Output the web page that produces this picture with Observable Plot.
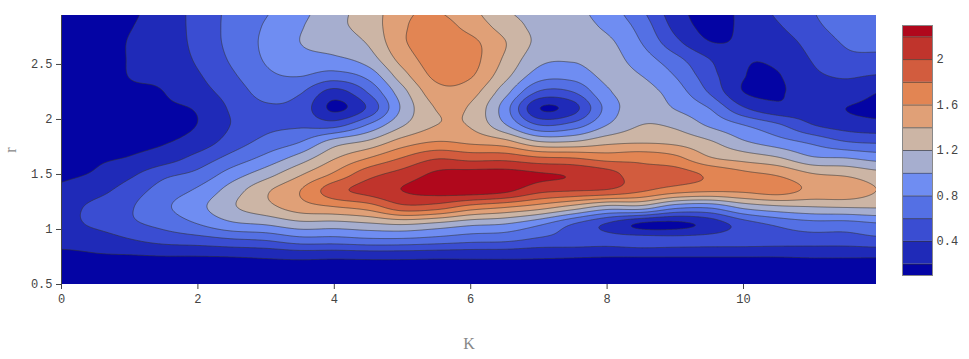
<!DOCTYPE html>
<html>
<head>
<meta charset="utf-8">
<script src="https://cdn.jsdelivr.net/npm/d3@7"></script>
<script src="https://cdn.jsdelivr.net/npm/@observablehq/plot@0.6"></script>
<style>
html,body{margin:0;padding:0;background:#fff;}
#wrap{position:relative;width:969px;height:359px;overflow:hidden;}
g[aria-label="x-axis label"] text,g[aria-label="y-axis label"] text,
g[aria-label="x-axis label"],g[aria-label="y-axis label"]{font-family:"Liberation Serif",serif;font-size:16px;fill:#888;}
</style>
</head>
<body>
<div id="wrap"></div>
<script>
// K positions of the columns, r positions of the rows (top to bottom)
const kValues = [0,0.5,1,1.5,2,2.5,3,3.5,4,4.5,5,5.5,6,6.5,7,7.5,8,8.5,9,9.5,10,10.5,11,11.5,12];
const rValues = [3,2.85,2.7,2.55,2.4,2.25,2.1,1.95,1.8,1.65,1.5,1.35,1.2,1.05,0.9,0.75,0.6,0.45];

// values; one list per K, from the top r to the bottom r
const columns = [
[.10,.10,.10,.10,.10,.11,.12,.13,.14,.16,.18,.23,.31,.33,.25,.16,.11,.10],
[.10,.10,.10,.10,.10,.11,.12,.13,.15,.18,.22,.33,.46,.44,.28,.18,.12,.10],
[.17,.19,.21,.21,.205,.17,.16,.16,.17,.21,.36,.50,.58,.56,.38,.18,.12,.10],
[.28,.28,.28,.27,.24,.20,.18,.17,.185,.30,.55,.69,.76,.66,.46,.19,.12,.10],
[.47,.47,.46,.43,.38,.32,.22,.205,.28,.47,.66,.84,.94,.80,.50,.19,.12,.10],
[.65,.66,.66,.63,.57,.49,.43,.41,.49,.67,.90,1.1,1.17,.96,.56,.2,.12,.10],
[.78,.82,.84,.82,.76,.67,.57,.55,.66,.86,1.12,1.37,1.33,1.02,.6,.22,.13,.10],
[.93,.98,1.0,.93,.81,.62,.52,.57,.79,1.09,1.38,1.6,1.5,1.13,.7,.24,.13,.10],
[1.14,1.15,1.10,.96,.72,.33,.16,.52,1.08,1.38,1.64,1.92,1.58,1.12,.70,.23,.13,.10],
[1.28,1.28,1.22,1.10,.87,.62,.44,.82,1.23,1.60,1.93,2.07,1.68,1.17,.74,.24,.13,.10],
[1.55,1.57,1.57,1.48,1.32,1.13,1.04,1.18,1.48,1.81,2.08,2.2,1.92,1.22,.74,.24,.13,.10],
[1.6,1.67,1.70,1.70,1.65,1.52,1.41,1.40,1.6,1.98,2.24,2.27,1.88,1.15,.70,.23,.13,.10],
[1.45,1.53,1.65,1.67,1.62,1.48,1.37,1.38,1.55,1.93,2.28,2.30,1.7,1.05,.65,.23,.13,.10],
[1.22,1.31,1.41,1.37,1.27,1.08,.90,1.02,1.46,1.93,2.28,2.24,1.6,1.0,.63,.23,.13,.10],
[1.12,1.14,1.15,1.06,.90,.58,.21,.60,1.2,1.83,2.22,2.05,1.48,.84,.55,.22,.13,.10],
[1.05,1.07,1.06,1.02,.88,.60,.32,.68,1.2,1.8,2.18,2.0,1.3,.6,.52,.21,.13,.10],
[.90,.96,1.04,1.07,1.05,.97,.87,1.0,1.33,1.72,2.08,1.96,1.1,.38,.48,.2,.12,.10],
[.63,.72,.80,.9,1.0,1.07,1.12,1.2,1.37,1.73,1.88,1.82,1.1,.17,.5,.2,.12,.10],
[.28,.34,.46,.66,.79,.90,.99,1.16,1.34,1.65,1.87,1.68,.85,.15,.48,.2,.12,.10],
[.12,.14,.21,.40,.48,.58,.80,.97,1.22,1.42,1.77,1.62,.82,.27,.48,.2,.12,.10],
[.25,.24,.23,.22,.21,.20,.43,.8,1.02,1.32,1.65,1.63,1.04,.5,.5,.2,.12,.10],
[.44,.38,.3,.24,.19,.18,.26,.63,.88,1.22,1.58,1.68,1.14,.64,.5,.2,.12,.10],
[.59,.55,.47,.41,.36,.30,.30,.41,.75,1.03,1.42,1.55,1.18,.72,.5,.21,.12,.10],
[.72,.68,.62,.55,.42,.33,.20,.31,.60,1.0,1.37,1.53,1.2,.72,.5,.21,.12,.10],
[.78,.74,.66,.55,.39,.20,.15,.26,.56,.92,1.27,1.39,1.21,.78,.54,.21,.12,.10]
];

const levels = [0.2,0.4,0.6,0.8,1,1.2,1.4,1.6,1.8,2,2.2];
const bandColors = ["#0404a4","#1f2ab8","#3a4dd2","#5470e4","#6f8df2","#a6aecf","#ccb5a5","#e0a077","#e28553","#d25c3e","#c0342c","#b0081c"];
const barTicks = [0.4,0.8,1.2,1.6,2];
const xTicks = [0,2,4,6,8,10];
const yTicks = [0.5,1,1.5,2,2.5];
const barLow = [0.1,0.2,0.4,0.6,0.8,1,1.2,1.4,1.6,1.8,2,2.2];
const barHigh = [0.2,0.4,0.6,0.8,1,1.2,1.4,1.6,1.8,2,2.2,2.3];

const dk = kValues[1] - kValues[0];
const dr = rValues[0] - rValues[1];
const color = {type: "threshold", domain: levels, range: bandColors};
const font = {fontFamily: "'Liberation Mono', monospace", fontSize: "12px", color: "#444", background: "transparent", overflow: "visible"};

// Rendering only: a smooth surface through the read values (as a smoothed contour plot draws them).
const cr = (a, b, c, d, t) => b + 0.5 * t * (c - a + t * (2 * a - 5 * b + 4 * c - d + t * (3 * (b - c) + d - a)));
const nk = kValues.length, nr = rValues.length;
const at = (i, j) => columns[Math.max(0, Math.min(nk - 1, i))][Math.max(0, Math.min(nr - 1, j))];
function surface(k, r) {
  const u = Math.max(0, Math.min(nk - 1.001, (k - kValues[0]) / dk));
  const v = Math.max(0, Math.min(nr - 1.001, (rValues[0] - r) / dr));
  const i = Math.floor(u), j = Math.floor(v), s = u - i, t = v - j;
  const row = q => cr(at(i - 1, q), at(i, q), at(i + 1, q), at(i + 2, q), s);
  return cr(row(j - 1), row(j), row(j + 1), row(j + 2), t);
}

const chart = Plot.plot({
  width: 969, height: 359,
  marginLeft: 61, marginRight: 93, marginTop: 15, marginBottom: 75,
  x: {domain: [0, 11.95]},
  y: {domain: [0.5, 2.945]},
  color,
  style: font,
  marks: [
    Plot.contour({
      value: surface,
      x1: kValues[0] - dk / 2, x2: kValues[nk - 1] + dk / 2,
      y1: rValues[0] + dr / 2, y2: rValues[nr - 1] - dr / 2,
      pixelSize: 1,
      thresholds: [0, ...levels],
      fill: "value", stroke: "#333", strokeOpacity: 0.75, strokeWidth: 0.8,
      clip: true
    }),
    Plot.ruleX([0], {stroke: "#444", strokeWidth: 1}),
    Plot.axisX(xTicks, {tickSize: 5, tickPadding: 5, label: "K", labelAnchor: "center", labelArrow: "none", labelOffset: 64}),
    Plot.axisY(yTicks, {tickSize: 5, tickPadding: 4, tickFormat: d => d, label: "r", labelAnchor: "center", labelArrow: "none", labelOffset: 57})
  ]
});

const bar = Plot.plot({
  width: 89, height: 300,
  marginLeft: 22, marginRight: 37, marginTop: 25, marginBottom: 25,
  x: {domain: [0, 1], axis: null},
  y: {domain: [0.1, 2.3]},
  color,
  style: font,
  marks: [
    Plot.rect(barLow, {x1: () => 0, x2: () => 1, y1: d => d, y2: (d, i) => barHigh[i], fill: d => d}),
    Plot.ruleY(levels, {stroke: "#333", strokeOpacity: 0.8, strokeWidth: 0.8}),
    Plot.frame({stroke: "#888", strokeWidth: 1}),
    Plot.axisY(barTicks, {anchor: "right", tickSize: 0, tickPadding: 4, tickFormat: d => d, label: null})
  ]
});

const wrap = document.getElementById("wrap");
chart.style.left = "0"; chart.style.top = "0"; chart.style.position = "absolute";
bar.style.left = "880px"; bar.style.top = "0"; bar.style.position = "absolute";
wrap.append(chart, bar);
</script>
</body>
</html>
